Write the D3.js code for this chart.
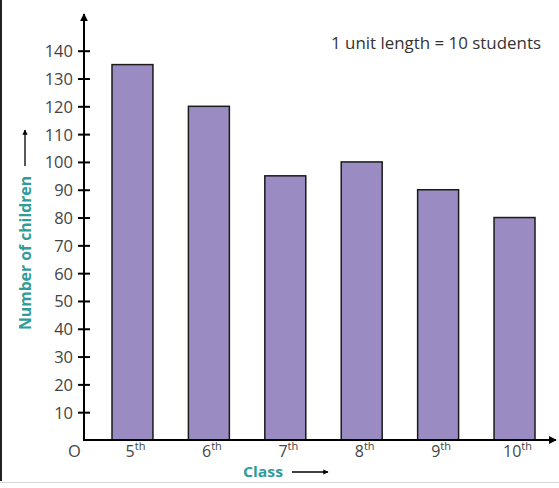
<!DOCTYPE html>
<html><head><meta charset="utf-8">
<script src="https://cdn.jsdelivr.net/npm/d3@7"></script>
<style>body{margin:0;background:#fff;}svg{display:block;}</style>
</head><body>
<script>
const classes = ["5", "6", "7", "8", "9", "10"];
const suffix = ["th", "th", "th", "th", "th", "th"];
const children = [135, 120, 95, 100, 90, 80];
const yTicks = [10, 20, 30, 40, 50, 60, 70, 80, 90, 100, 110, 120, 130, 140];

const W = 559, H = 488;
const svg = d3.select("body").append("svg").attr("width", W).attr("height", H);

const x0 = 84, y0 = 440;
const x = d3.scaleBand().domain(classes).range([112, 535]).paddingInner(0.464).paddingOuter(0);
const y = d3.scaleLinear().domain([0, 140]).range([y0, 50.7]);

// frame
svg.append("line").attr("x1", 1).attr("x2", 1).attr("y1", 0).attr("y2", 481).attr("stroke", "#222").attr("stroke-width", 2);
svg.append("line").attr("x1", 0).attr("x2", W).attr("y1", 482.5).attr("y2", 482.5).attr("stroke", "#d8d8d8").attr("stroke-width", 1);

const defs = svg.append("defs");
defs.append("marker").attr("id", "ah").attr("viewBox", "0 0 10 10").attr("refX", 9).attr("refY", 5)
  .attr("markerWidth", 4).attr("markerHeight", 4).attr("orient", "auto").attr("markerUnits", "strokeWidth")
  .append("path").attr("d", "M0,0L10,5L0,10z").attr("fill", "#000");

// bars
svg.selectAll("rect.bar").data(children).join("rect")
  .attr("x", (d, i) => x(classes[i]))
  .attr("y", d => y(d))
  .attr("width", x.bandwidth())
  .attr("height", d => y0 - y(d))
  .attr("fill", "#9a8cc2")
  .attr("stroke", "#1a1a1a")
  .attr("stroke-width", 1.5);

// axes
svg.append("line").attr("x1", x0).attr("x2", x0).attr("y1", y0 + 1).attr("y2", 14)
  .attr("stroke", "#000").attr("stroke-width", 2).attr("marker-end", "url(#ah)");
svg.append("line").attr("x1", x0 - 1).attr("x2", 556).attr("y1", y0).attr("y2", y0)
  .attr("stroke", "#000").attr("stroke-width", 2).attr("marker-end", "url(#ah)");

const yAxis = d3.axisLeft(y).tickValues(yTicks).tickSize(0).tickPadding(0);
const gy = svg.append("g").attr("transform", `translate(${x0},0)`).call(yAxis);
gy.select(".domain").remove();
gy.selectAll(".tick line").attr("x1", -6).attr("x2", 6).attr("stroke", "#000").attr("stroke-width", 2);
gy.selectAll(".tick text").attr("x", -11).attr("dy", "0.36em")
  .attr("font-family", "Open Sans, sans-serif").attr("font-size", 16.5).attr("fill", "#444");

// x labels
const xl = svg.selectAll("text.xl").data(classes).join("text")
  .attr("class", "xl")
  .attr("x", d => x(d) + x.bandwidth() / 2 + 3)
  .attr("y", 456.5)
  .attr("text-anchor", "middle")
  .attr("font-family", "Open Sans, sans-serif").attr("fill", "#444");
xl.append("tspan").attr("font-size", 16).text(d => d);
xl.append("tspan").attr("font-size", 11).attr("dy", -7).text((d, i) => suffix[i]);

svg.append("text").attr("x", 74.5).attr("y", 457).attr("text-anchor", "middle")
  .attr("font-family", "Open Sans, sans-serif").attr("font-size", 16.5).attr("fill", "#444").text("O");

// note
svg.append("text").attr("x", 331).attr("y", 49)
  .attr("font-family", "Open Sans, sans-serif").attr("font-size", 16).attr("fill", "#333")
  .attr("textLength", 210).attr("lengthAdjust", "spacingAndGlyphs")
  .text("1 unit length = 10 students");

// axis titles
const teal = "#2e9c98";
svg.append("text").attr("transform", "translate(31,253) rotate(-90)").attr("text-anchor", "middle")
  .attr("font-family", "Open Sans, sans-serif").attr("font-weight", "bold").attr("font-size", 16).attr("fill", teal)
  .attr("textLength", 154).attr("lengthAdjust", "spacingAndGlyphs")
  .text("Number of children");
svg.append("line").attr("x1", 25).attr("x2", 25).attr("y1", 166).attr("y2", 130)
  .attr("stroke", "#000").attr("stroke-width", 1.3).attr("marker-end", "url(#ah)");

svg.append("text").attr("x", 243).attr("y", 477)
  .attr("font-family", "Open Sans, sans-serif").attr("font-weight", "bold").attr("font-size", 15).attr("fill", teal)
  .attr("textLength", 40).attr("lengthAdjust", "spacingAndGlyphs")
  .text("Class");
svg.append("line").attr("x1", 292).attr("x2", 328).attr("y1", 472).attr("y2", 472)
  .attr("stroke", "#000").attr("stroke-width", 1.3).attr("marker-end", "url(#ah)");
</script>
</body></html>
